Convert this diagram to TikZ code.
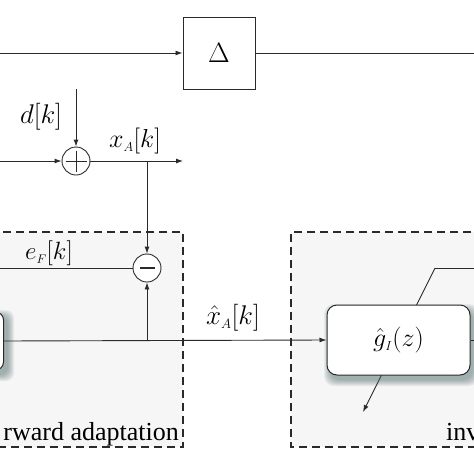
\RequirePackage{fix-cm}
\documentclass[tikz,border=0pt]{standalone}
\usepackage{fontspec}
\setmainfont{Liberation Serif}
\usetikzlibrary{arrows.meta,calc}
\definecolor{lnc}{HTML}{2A2A2A}
\definecolor{regc}{HTML}{F6F6F6}
\definecolor{shc}{HTML}{4F6769}
\begin{document}
\begin{tikzpicture}[x=1pt,y=-1pt,
  wire/.style={draw=lnc, line width=0.9pt},
  arr/.style={wire, -{Latex[length=7pt,width=5pt]}},
  blk/.style={draw=lnc, line width=1pt, fill=white, inner sep=0pt},
  sumc/.style={circle, draw=lnc, line width=0.9pt, fill=white, minimum size=28pt, inner sep=0pt},
  region/.style={fill=regc, draw=lnc, line width=1.1pt, dash pattern=on 8pt off 5pt},
  mlbl/.style={inner sep=0pt, text=black},
  tlbl/.style={inner sep=0pt, text=black, font=\fontsize{26}{26}\selectfont}
]
\useasboundingbox (0,0) rectangle (474,474);

% regions
\draw[region] (-10,232) -- (183,232) -- (183,447) -- (-10,447);
\draw[region] (484,232) -- (291,232) -- (291,447) -- (484,447);

% adjustment arrow behind g box
\coordinate (ad1) at (363,412);
\coordinate (ad2) at (435,268);
\coordinate (ad3) at (474,268);
\draw[wire] (ad3) -- (ad2);
\draw[arr] (ad2) -- (ad1);

% shadows
\foreach \s in {0,1,...,6} {
  \fill[shc, opacity=0.09, rounded corners=10pt] (327+3-\s,305+5-\s) rectangle (470+3+\s,375+5+\s);
  \fill[shc, opacity=0.09, rounded corners=8pt] (-60+3-\s,312+4-\s) rectangle (4+4+\s,370+5+\s);
}

% blocks
\node[blk, minimum width=72pt, minimum height=72pt, font=\fontsize{28}{28}\selectfont] (delta) at (219,53) {$\Delta$};
\node[blk, rounded corners=10pt, minimum width=143pt, minimum height=70pt, font=\fontsize{26}{26}\selectfont] (g) at (398.5,340) {$\hat g_{\scriptscriptstyle I}(z)$};
\node[blk, rounded corners=8pt, minimum width=64pt, minimum height=58pt, anchor=east] (lb) at (4,341) {};
\node[sumc] (sum) at (76,161) {};
\node[sumc] (minus) at (147,268) {};
\draw[lnc, line width=0.9pt] ($(sum.center)+(-10.5,0)$) -- ++(21,0);
\draw[lnc, line width=0.9pt] ($(sum.center)+(0,-10.5)$) -- ++(0,21);
\draw[lnc, line width=1.8pt] ($(minus.center)+(-7.5,0)$) -- ++(15,0);

% top path
\coordinate (tl) at (0,53);
\coordinate (tr) at (474,53);
\draw[arr] (tl) -- (delta.west);
\draw[wire] (delta.east) -- (tr);

% sum
\coordinate (sin) at (0,161);
\coordinate (din) at (76,89);
\coordinate (xa) at (183,161);
\coordinate (br1) at (147,161);
\draw[arr] (sin) -- (sum.west);
\draw[arr] (din) -- (sum.north);
\draw[arr] (sum.east) -- (xa);
\draw[arr] (br1) -- (minus.north);

% error
\coordinate (eout) at (0,268);
\draw[wire] (minus.west) -- (eout);

% bottom path
\coordinate (br2) at (147,341);
\coordinate (gout) at (474,340);
\draw[arr] (lb.east) -- (g.west);
\draw[arr] (br2) -- (minus.south);
\draw[wire] (g.east) -- (gout);

% labels
\node[mlbl, font=\fontsize{27}{27}\selectfont] (ld) at (41,117) {$d[k]$};
\node[mlbl, font=\fontsize{26}{26}\selectfont] (lxa) at (135,141) {$x_{\scriptscriptstyle A}[k]$};
\node[mlbl, font=\fontsize{25}{25}\selectfont] (lef) at (49,253) {$e_{\scriptscriptstyle F}[k]$};
\node[mlbl, font=\fontsize{27}{27}\selectfont] (lxh) at (233,318) {$\hat x_{\scriptscriptstyle A}[k]$};
\node[tlbl, anchor=base east] (tfa) at (179,440) {rward adaptation};
\node[tlbl, anchor=base west] (tinv) at (446,440) {inv};
\end{tikzpicture}
\end{document}
